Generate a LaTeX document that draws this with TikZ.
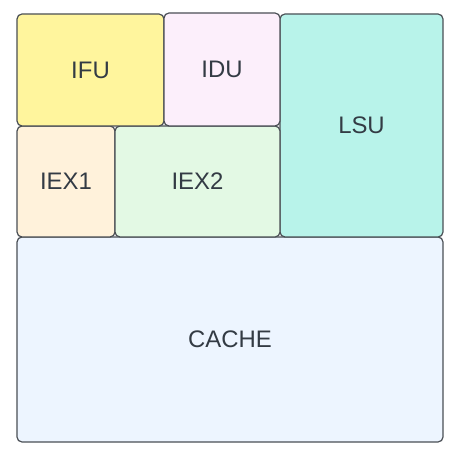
\documentclass[tikz,border=0pt]{standalone}
\usepackage{fontspec}
\setmainfont{Liberation Sans}
\definecolor{edge}{HTML}{4A4F55}
\definecolor{txt}{HTML}{333B44}
\definecolor{ifuc}{HTML}{FFF59D}
\definecolor{iduc}{HTML}{FCEFFB}
\definecolor{lsuc}{HTML}{B8F3EA}
\definecolor{iexac}{HTML}{FFF2DB}
\definecolor{iexbc}{HTML}{E3F9E4}
\definecolor{cachec}{HTML}{EDF5FF}
\tikzset{
  unit/.style={draw=edge, line width=1.2bp, rounded corners=5bp, inner sep=0pt,
    outer sep=0pt, text=txt, font=\fontsize{24}{28}\selectfont}
}
\begin{document}
\begin{tikzpicture}[x=1bp,y=-1bp]
      \useasboundingbox (0,0) rectangle (474,453);
      \draw
        (230,339.5) node[unit, fill=cachec, minimum width=426bp, minimum height=205bp] (cache){CACHE}
        (361.5,125.5) node[unit, fill=lsuc, minimum width=163bp, minimum height=223bp] (lsu){LSU}
        (66,181.5) node[unit, fill=iexac, minimum width=98bp, minimum height=111bp] (iex1){IEX1}
        (197.5,181.5) node[unit, fill=iexbc, minimum width=165bp, minimum height=111bp] (iex2){IEX2}
        (90.5,70) node[unit, fill=ifuc, minimum width=147bp, minimum height=112bp] (ifu){IFU}
        (222,69.5) node[unit, fill=iduc, minimum width=116bp, minimum height=113bp] (idu){IDU};
    \end{tikzpicture}
\end{document}
